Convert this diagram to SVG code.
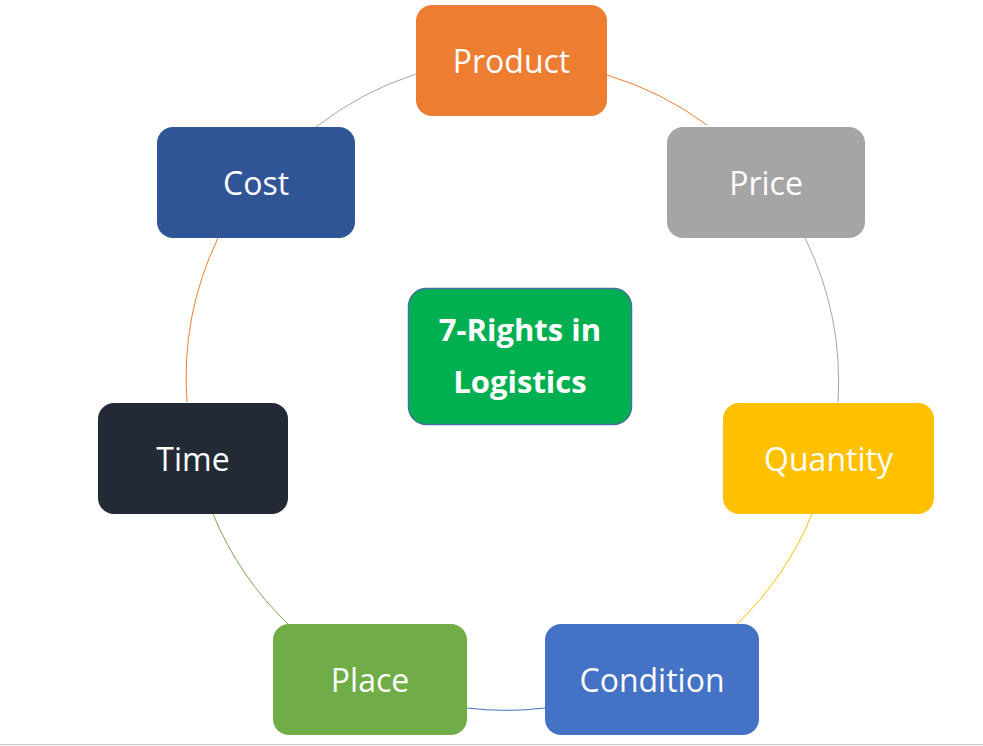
<svg xmlns="http://www.w3.org/2000/svg" width="983" height="746" viewBox="0 0 983 746">
<style>
.n{stroke:none}
.t{font-family:"Open Sans","Liberation Sans",sans-serif;font-size:32px;fill:#fff;text-anchor:middle;dominant-baseline:central}
.b{font-weight:bold;font-size:31px}
.c{fill:none;stroke-width:1}
</style>
<rect width="983" height="746" fill="#fff"/>
<line x1="0" y1="744.5" x2="983" y2="744.5" stroke="#c8c8c8"/>
<g id="connectors">
<path class="c" stroke="#ED7D31" d="M607,75 A325,325 0 0 1 707,125"/>
<path class="c" stroke="#A5A5A5" d="M805,238 A325,325 0 0 1 838,402"/>
<path class="c" stroke="#FFC000" d="M812,514 A325,325 0 0 1 737,624"/>
<path class="c" stroke="#4472C4" d="M545,708 A325,325 0 0 1 467,708"/>
<path class="c" stroke="#70AD47" d="M288,624 A325,325 0 0 1 213,514"/>
<path class="c" stroke="#ED7D31" d="M187,402 A325,325 0 0 1 218,238"/>
<path class="c" stroke="#A5A5A5" d="M316,127 A325,325 0 0 1 416,74"/>
</g>
<g id="product"><rect x="416" y="5" width="191" height="111" rx="16" fill="#ED7D31"/><text class="t" x="511.5" y="60">Product</text></g>
<g id="price"><rect x="667" y="127" width="198" height="111" rx="16" fill="#A5A5A5"/><text class="t" x="766" y="182">Price</text></g>
<g id="quantity"><rect x="723" y="403" width="211" height="111" rx="16" fill="#FFC000"/><text class="t" x="828.5" y="458">Quantity</text></g>
<g id="condition"><rect x="545" y="624" width="214" height="111" rx="16" fill="#4472C4"/><text class="t" x="652" y="679">Condition</text></g>
<g id="place"><rect x="273" y="624" width="194" height="111" rx="16" fill="#70AD47"/><text class="t" x="370" y="679">Place</text></g>
<g id="time"><rect x="98" y="403" width="190" height="111" rx="16" fill="#222A35"/><text class="t" x="193" y="458">Time</text></g>
<g id="cost"><rect x="157" y="127" width="198" height="111" rx="16" fill="#2F5597"/><text class="t" x="256" y="182">Cost</text></g>
<g id="center"><rect x="408.5" y="288.5" width="223" height="136" rx="18" fill="#00B050" stroke="#41719C" stroke-width="1.5"/><text class="t b" x="520" y="329">7-Rights in</text><text class="t b" x="520" y="381">Logistics</text></g>
</svg>
